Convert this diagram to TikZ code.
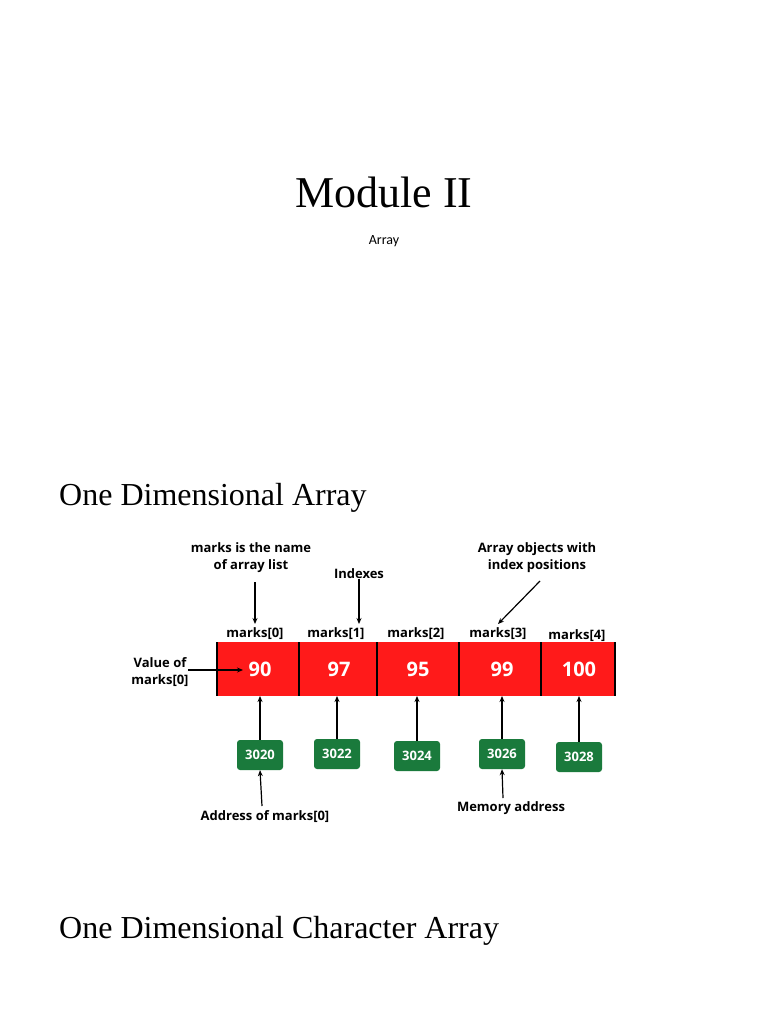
\documentclass[tikz,border=0pt]{standalone}
\usepackage{fontspec}
\setmainfont{Liberation Serif}
\newfontfamily\labfont{Open Sans}
\newfontfamily\calfont{Carlito}
\usetikzlibrary{arrows.meta}
\definecolor{cellred}{HTML}{FF1A1A}
\definecolor{boxgreen}{HTML}{1A7A3C}
\begin{document}
\begin{tikzpicture}[x=1pt,y=-1pt,
  lbl/.style={font=\labfont\bfseries\fontsize{13}{17}\selectfont,align=center,inner sep=0},
  val/.style={font=\labfont\bfseries\fontsize{20}{24}\selectfont,text=white,inner sep=0},
  addr/.style={fill=boxgreen,rounded corners=3pt,minimum width=46pt,minimum height=30pt,inner sep=0,font=\labfont\bfseries\fontsize{13}{15}\selectfont,text=white},
  arr/.style={-{Stealth[length=6pt,width=5pt]},line width=1.2pt}]
\useasboundingbox (0,0) rectangle (768,1024);
\fill[white] (0,0) rectangle (768,1024);
\node (title) at (384,192) {\fontsize{44}{50}\selectfont Module II};
\node (sub) at (384,241) {\calfont\fontsize{14}{16}\selectfont Array};
\node[anchor=west,inner sep=0] (h1) at (59,498) {\fontsize{32}{36}\selectfont One Dimensional Array};
\node[anchor=west,inner sep=0] (h2) at (59,931) {\fontsize{32}{36}\selectfont One Dimensional Character Array};
% array
\fill[cellred] (217,642) rectangle (615,696);
\foreach \x in {217,299,377,459,541,615} \draw[line width=1.5pt] (\x,642) -- (\x,696);
\node[val] (v0) at (260,669) {90};
\node[val] (v1) at (339,669) {97};
\node[val] (v2) at (418,669) {95};
\node[val] (v3) at (502,669) {99};
\node[val] (v4) at (579,669) {100};
\foreach \i/\x/\y in {0/255/634,1/336/634,2/416/634,3/498/634,4/577/636}
  \node[lbl] (m\i) at (\x,\y) {marks[\i]};
\foreach \i/\x/\y in {0/260/755,1/337/754,2/417/756,3/502/754,4/579/757}
  \coordinate (b\i) at (\x,696);
\node[addr] (a0) at (260,755) {3020};
\node[addr] (a1) at (337,754) {3022};
\node[addr] (a2) at (417,756) {3024};
\node[addr] (a3) at (502,754) {3026};
\node[addr] (a4) at (579,757) {3028};
\foreach \i in {0,...,4} \draw[arr] (a\i.north) -- (a\i.north |- b\i);
\node[lbl] (name) at (251,558) {marks is the name\\of array list};
\coordinate (n1) at (255,582); \coordinate (n2) at (255,624);
\draw[arr] (n1) -- (n2);
\node[lbl] (idx) at (359,574) {Indexes};
\coordinate (i2) at (359,624);
\draw[arr] (idx.south) -- (i2);
\node[lbl] (obj) at (537,558) {Array objects with\\index positions};
\coordinate (o1) at (540,581); \coordinate (o2) at (498,624);
\draw[arr] (o1) -- (o2);
\node[lbl] (valof) at (160,672) {Value of\\marks[0]};
\coordinate (vv1) at (188,670); \coordinate (vv2) at (243,670);
\draw[arr] (vv1) -- (vv2);
\node[lbl] (adr) at (265,817) {Address of marks[0]};
\coordinate (ad1) at (262,806);
\draw[arr] (ad1) -- (a0.south);
\node[lbl] (mem) at (511,808) {Memory address};
\coordinate (me1) at (503,798);
\draw[arr] (me1) -- (a3.south);
\end{tikzpicture}
\end{document}
